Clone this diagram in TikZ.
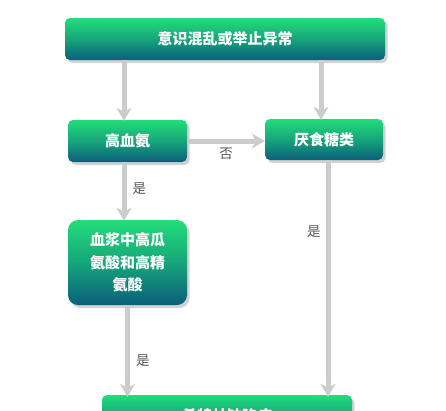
\documentclass[tikz,border=0pt]{standalone}
\usepackage{fontspec}
\newfontfamily\cjk{Noto Sans CJK SC}
\usetikzlibrary{arrows.meta,shadows}
\definecolor{gtop}{HTML}{22DE7A}
\definecolor{gbot}{HTML}{0A5F7B}
\definecolor{arrgray}{HTML}{CCCCCC}
\definecolor{lblgray}{HTML}{555555}
\tikzset{
  box/.style={rectangle, rounded corners=#1, top color=gtop, bottom color=gbot,
    middle color=gtop!55!gbot,
    draw=none, text=white, font=\cjk\bfseries\fontsize{15pt}{22.5pt}\selectfont,
    align=center, inner sep=0pt,
    drop shadow={shadow xshift=2.5pt, shadow yshift=-3pt, opacity=0.35, fill=gray}},
  box/.default=5pt,
  arr/.style={draw=arrgray, line width=5pt,
    -{Stealth[length=13pt,width=15pt,inset=4pt,fill=arrgray]}},
  lbl/.style={text=lblgray, font=\cjk\fontsize{13.5pt}{13.5pt}\selectfont, inner sep=0pt}
}
\begin{document}
\begin{tikzpicture}[x=1pt,y=-1pt]
\clip (0,0) rectangle (446,410);
\fill[white] (0,0) rectangle (446,410);
\node[box, minimum width=320pt, minimum height=42pt] (top) at (225,39) {意识混乱或举止异常};
\node[box, minimum width=119pt, minimum height=42pt] (hb) at (127.5,141) {高血氨};
\node[box, minimum width=118pt, minimum height=41pt] (ys) at (324,139.5) {厌食糖类};
\node[box=10pt, minimum width=119pt, minimum height=85pt] (xj) at (127.5,262.5) {血浆中高瓜\\氨酸和高精\\氨酸};
\node[box, minimum width=250pt, minimum height=42pt] (bt) at (227,416) {希特林缺陷病};
\coordinate (yss) at ([xshift=4pt]ys.south);

\draw[arr] ([xshift=-3.5pt]top.south -| hb.north) -- ([xshift=-3.5pt,yshift=-1pt]hb.north);
\draw[arr] ([xshift=-3pt]top.south -| ys.north) -- ([xshift=-3pt,yshift=-1pt]ys.north);
\draw[arr] (hb.east) -- (ys.west |- hb.east) node[lbl, midway, below=4pt] {否};
\draw[arr] ([xshift=-3.5pt]hb.south) -- ([xshift=-3.5pt,yshift=-1pt]xj.north) node[lbl, pos=0.45, right=6pt] {是};
\draw[arr] (xj.south) -- ([yshift=-2pt]bt.north -| xj.south) node[lbl, pos=0.6, right=6pt] {是};
\draw[arr] (yss) -- ([yshift=-2pt]bt.north -| yss) node[lbl, pos=0.3, left=5pt] {是};
\end{tikzpicture}
\end{document}
